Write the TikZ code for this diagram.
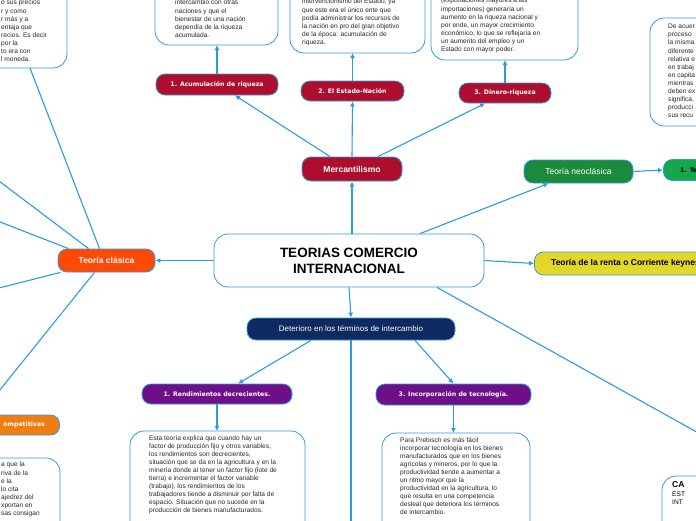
\documentclass[tikz,border=0pt]{standalone}
\usepackage{fontspec}
\setmainfont{Liberation Sans}
\newfontfamily\verd{DejaVu Sans}
\begin{document}
\begin{tikzpicture}[x=1pt,y=-1pt,
  conn/.style={draw=linkblue,line width=1.1pt},
  arr/.style={conn,-{Latex[length=5pt,width=5pt]}},
  pill/.style={draw=linkblue,line width=0.8pt,rounded corners=9pt,inner sep=0pt,font=\verd\bfseries\fontsize{6.2}{8}\selectfont,text=white},
  tbox/.style={draw=linkblue,line width=0.8pt,rounded corners=14pt},
  txt/.style={anchor=north west,align=left,inner sep=0pt,font=\fontsize{6.6}{8.1}\selectfont,text=black!85}]
\usetikzlibrary{arrows.meta}
\definecolor{linkblue}{HTML}{2E9BE0}
\definecolor{merc}{HTML}{AE0E2E}
\definecolor{neo}{HTML}{1B8A3A}
\definecolor{neo2}{HTML}{14A84A}
\definecolor{yel}{HTML}{E3D82A}
\definecolor{clas}{HTML}{FF4A05}
\definecolor{orng}{HTML}{F07D10}
\definecolor{navy}{HTML}{0E2A60}
\definecolor{purp}{HTML}{6E0F8A}
\useasboundingbox (0,0) rectangle (696,520);
\clip (0,0) rectangle (696,520);
% boxes
\draw[tbox] (-40,-20) rectangle (67,68);
\draw[tbox] (155,-20) rectangle (278,45);
\draw[tbox] (290,-20) rectangle (425,53);
\draw[tbox] (431,-20) rectangle (578,60);
\draw[tbox] (650,18) rectangle (720,126);
\draw[tbox] (-40,458) rectangle (60,540);
\draw[tbox] (130,431) rectangle (305,540);
\draw[tbox] (382,433) rectangle (530,540);
\draw[tbox] (662,476) rectangle (720,540);
% texts
\node[txt] (t0) at (1,0) {o sus precios\\r y como\\r más y a\\entaja que\\recios. Es decir\\por la\\to era con\\l moneda.};
\node[txt] (t1) at (175,0) {intercambio con otras\\naciones y que el\\bienestar de una nación\\dependía de la riqueza\\acumulada.};
\node[txt] (t2) at (302,-1) {intervencionismo del Estado, ya\\que este era el único ente que\\podía administrar los recursos de\\la nación en pro del gran objetivo\\de la época: acumulación de\\riqueza.};
\node[txt] (t3) at (441,-2) {(exportaciones mayores a las\\importaciones) generaría un\\aumento en la riqueza nacional y\\por ende, un mayor crecimiento\\económico, lo que se reflejaría en\\un aumento del empleo y un\\Estado con mayor poder.};
\node[txt] (t4) at (668,24) {De acuer\\proceso\\la misma\\diferente\\relativa e\\en trabaj\\en capita\\mientras\\deben ex\\significa,\\producci\\sus recu};
\node[txt] (t5) at (1,462) {a que la\\riva de la\\e la\\lo cita\\ajedrez del\\xportan en\\sas consigan};
\node[txt] (t6) at (149,435) {Esta teoría explica que cuando hay un\\factor de producción fijo y otros variables,\\los rendimientos son decrecientes,\\situación que se da en la agricultura y en la\\minería donde al tener un factor fijo (lote de\\tierra) e incrementar el factor variable\\(trabajo), los rendimientos de los\\trabajadores tiende a disminuir por falta de\\espacio. Situación que no sucede en la\\producción de bienes manufacturados.};
\node[txt] (t7) at (400,437) {Para Prebisch es más fácil\\incorporar tecnología en los bienes\\manufacturados que en los bienes\\agrícolas y mineros, por lo que la\\productividad tiende a aumentar a\\un ritmo mayor que la\\productividad en la agricultura, lo\\que resulta en una competencia\\desleal que deteriora los términos\\de intercambio.};
\node[anchor=north west,align=left,inner sep=0pt,font=\fontsize{8.5}{8.5}\selectfont] (t8) at (672,481) {\textbf{CA}};
\node[anchor=north west,align=left,inner sep=0pt,font=\fontsize{6.6}{8}\selectfont] (t9) at (672,492) {EST\\INT};
% center
\node[draw=linkblue,line width=0.8pt,rounded corners=14pt,minimum width=270pt,minimum height=53pt,align=center,font=\bfseries\fontsize{13.5}{16}\selectfont] (c) at (349,260.5) {TEORIAS COMERCIO\\INTERNACIONAL};
% pills
\node[pill,fill=merc,minimum width=100pt,minimum height=24pt,font=\bfseries\fontsize{8.5}{9}\selectfont] (m) at (352,169) {Mercantilismo};
\node[pill,fill=merc,minimum width=122pt,minimum height=21pt] (m1) at (217,84.5) {1. Acumulación de riqueza};
\node[pill,fill=merc,minimum width=103pt,minimum height=20pt] (m2) at (352.5,91) {2. El Estado-Nación};
\node[pill,fill=merc,minimum width=92pt,minimum height=20pt] (m3) at (505,93) {3. Dinero-riqueza};
\node[pill,fill=neo,minimum width=109pt,minimum height=23pt,font=\fontsize{8.5}{9}\selectfont] (n) at (578.5,171.5) {Teoría neoclásica};
\node[pill,fill=neo2,minimum width=60pt,minimum height=21pt,anchor=west] (n1) at (663,170) {};
\node[anchor=west,inner sep=0pt,font=\verd\bfseries\fontsize{6.2}{8}\selectfont] (n1t) at (680,170) {1. Te};
\node[pill,fill=yel,minimum width=180pt,minimum height=23pt,anchor=west] (k) at (534,263.5) {};
\node[anchor=west,inner sep=0pt,font=\bfseries\fontsize{8.5}{9}\selectfont] (kt) at (551,263.5) {Teoría de la renta o Corriente keynesiana};
\node[pill,fill=clas,minimum width=97pt,minimum height=23pt,font=\bfseries\fontsize{8.5}{9}\selectfont] (cl) at (106.5,260.5) {Teoría clásica};
\node[pill,fill=orng,minimum width=100pt,minimum height=20pt,anchor=east] (o) at (60,425) {};
\node[anchor=east,inner sep=0pt,font=\verd\bfseries\fontsize{6.2}{8}\selectfont,text=white] (ot) at (45,425) {ompetitivas};
\node[pill,fill=navy,minimum width=208pt,minimum height=22pt,font=\fontsize{8}{9}\selectfont] (d) at (351,329) {Deterioro en los términos de intercambio};
\node[pill,fill=purp,minimum width=150pt,minimum height=20pt] (d1) at (217,394) {1. Rendimientos decrecientes.};
\node[pill,fill=purp,minimum width=155pt,minimum height=21pt] (d3) at (453.5,394.5) {3. Incorporación de tecnología.};
% connectors
\draw[arr] (c.north -| m) -- (m.south);
\draw[arr] ([xshift=-22pt]m.north) -- ([xshift=18pt]m1.south);
\draw[arr] (m.north) -- (m2.south);
\draw[arr] ([xshift=26pt]m.north) -- ([xshift=-20pt]m3.south);
\draw[arr] (m1.north) -- (217,45);
\draw[arr] (m2.north) -- (352.5,53);
\draw[arr] (m3.north) -- (505,60);
\draw[arr] ([xshift=71pt]c.north) -- ([xshift=-30pt]n.south);
\draw[arr] (n.east) -- (n1.west);
\draw[arr] (c.east) -- (k.west);
\draw[arr] (c.west) -- (cl.east);
\draw[arr] (c.south) -- (d.north);
\draw[arr] ([xshift=-40pt]d.south) -- ([xshift=21pt]d1.north);
\draw[arr] ([xshift=64pt]d.south) -- (d3.north);
\draw[arr] (d1.south) -- (217,431);
\draw[arr] (d3.south) -- (453.5,433);
\draw[conn] (d.south) -- (351,530);
\draw[conn] ([xshift=88pt]c.south) -- (720,445);
\draw[conn] ([xshift=-7pt]cl.north) -- (30,68);
\draw[conn] ([xshift=-18pt]cl.north) -- (-5,178);
\draw[conn] ([xshift=-38pt]cl.north) -- (-5,220);
\draw[conn] ([xshift=-46pt]cl.south) -- (-5,289);
\draw[conn] ([xshift=-12pt]cl.south) -- (-5,396);
\end{tikzpicture}
\end{document}
